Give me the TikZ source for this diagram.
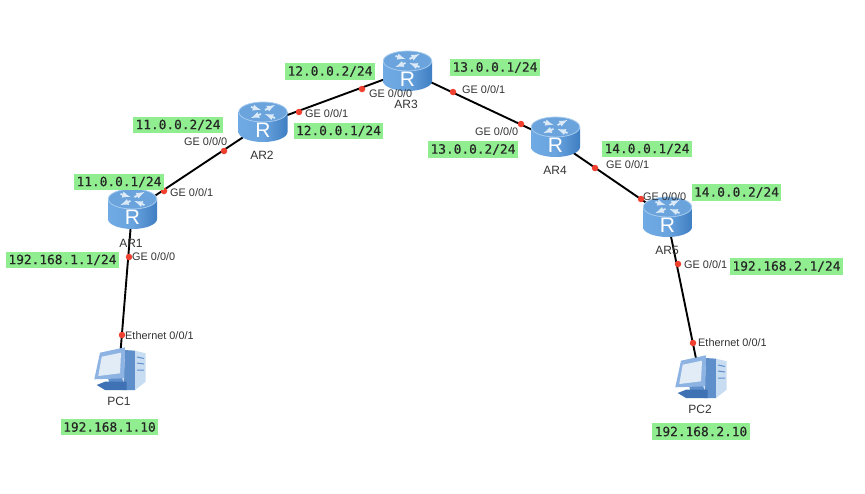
\documentclass[tikz,border=0pt]{standalone}
\usepackage{fontspec}
\setmainfont{Liberation Sans}
\newfontfamily\ipfont[FakeBold=0.35]{DejaVu Sans Mono}
\usepackage{tikz}
\usetikzlibrary{backgrounds}
\definecolor{ipgreen}{HTML}{90EE90}
\definecolor{portred}{HTML}{F04030}
\definecolor{labelgrey}{HTML}{333333}
\definecolor{routertop}{HTML}{6BA3DC}
\definecolor{routerrim}{HTML}{A6CBEF}
\definecolor{routerarrow}{HTML}{DCEAF8}
\definecolor{routerleft}{HTML}{6FAAE4}
\definecolor{routermid}{HTML}{6AA4DF}
\definecolor{routerright}{HTML}{3E7EC2}
\definecolor{pcdark}{HTML}{3F72B5}
\definecolor{pcmid}{HTML}{5F8FCB}
\definecolor{pcframe}{HTML}{8DB3E2}
\definecolor{pclight}{HTML}{C9DDF2}
\definecolor{pcscreen}{HTML}{E2ECF7}
\tikzset{
  link/.style={line width=1.9pt,black},
  port/.style={circle,fill=portred,inner sep=0pt,minimum size=6.5pt},
  ip/.style={fill=ipgreen,inner xsep=2.5pt,inner ysep=0pt,minimum height=16.5pt,font=\ipfont\fontsize{12.8}{14}\selectfont,text=black!85},
  portname/.style={anchor=west,inner sep=0pt,font=\fontsize{10.9}{12}\selectfont,text=labelgrey},
  devname/.style={inner sep=0pt,font=\fontsize{12}{14}\selectfont,text=labelgrey},
  dev/.style={inner sep=0pt,minimum size=4pt},
  flow/.style={routerarrow,line width=1.8pt,-latex},
  router/.pic={
    \path[left color=routerleft,right color=routerright,middle color=routermid]
      (-24.5,-10) -- (-24.5,10) .. controls (-24.5,15.5) and (-13.5,20) .. (0,20)
      .. controls (13.5,20) and (24.5,15.5) .. (24.5,10) -- (24.5,-10) -- cycle;
    \fill[routertop,draw=routerrim,line width=0.8pt] (0,-10) ellipse [x radius=24.2,y radius=10];
    \draw[flow] (-2,-8) -- (-12,-4);
    \draw[flow] (2,-12) -- (12,-17);
    \draw[flow] (-12,-15) -- (-2,-12);
    \draw[flow] (12,-4) -- (2,-8);
    \node[white,inner sep=0pt,font=\fontsize{21}{21}\selectfont] (-R) at (0,8.5) {R};
  },
  pc/.pic={
    \fill[pcmid] (6,-20) -- (16,-19.3) -- (16,20) -- (4.3,20) -- cycle;
    \fill[pclight] (16,-19.3) -- (26.7,-16.7) -- (26.7,11.7) -- (16,20) -- cycle;
    \draw[pcmid,line width=1pt] (18,-13) -- (25,-11.5) (18,-7) -- (25,-6) (18,0) -- (25,0);
    \fill[pcmid] (-11,8) -- (3,7) -- (5,15) -- (-9,15) -- cycle;
    \fill[pcdark] (-22.3,15) -- (-14,11.7) -- (7.7,11.7) -- (7.7,20) -- (-14,20) -- cycle;
    \fill[pcframe] (-19,-17.3) -- (6,-22.7) -- (5.3,8.3) -- (-24.7,9.3) -- cycle;
    \fill[pcscreen] (-17.3,-13.3) -- (2,-17.3) -- (1,3.3) -- (-20.7,6) -- cycle;
  },
}
\begin{document}
\begin{tikzpicture}[x=1pt,y=-1pt]
\node[dev] (AR1) at (132,211) {};
\node[dev] (AR2) at (263,124) {};
\node[dev] (AR3) at (407,71) {};
\node[dev] (AR4) at (556,141) {};
\node[dev] (AR5) at (667,217) {};
\node[dev] (PC1) at (119,370) {};
\node[dev] (PC2) at (700,378) {};

% links stay under the icons
\begin{scope}[on background layer]
\path[use as bounding box,fill=white] (0,0) rectangle (865,493);
\draw[link] (PC1.center) -- (AR1.center);
\draw[link] (AR1.center) -- (AR2.center);
\draw[link] (AR2.center) -- (AR3.center);
\draw[link] (AR3.center) -- (AR4.center);
\draw[link] (AR4.center) -- (AR5.center);
\draw[link] (AR5.center) -- (PC2.center);
\end{scope}

\pic (iconAR1) at (132.5,209) {router};
\pic (iconAR2) at (263,122) {router};
\pic (iconAR3) at (407.5,71) {router};
\pic (iconAR4) at (555.5,137) {router};
\pic (iconAR5) at (667.5,217) {router};
\pic (iconPC1) at (119,370) {pc};
\pic (iconPC2) at (700,378) {pc};

\node[devname] (nameAR1) at (131,243) {AR1};
\node[devname] (nameAR2) at (262,155) {AR2};
\node[devname] (nameAR3) at (406,104.5) {AR3};
\node[devname] (nameAR4) at (555,170) {AR4};
\node[devname] (nameAR5) at (667,250) {AR5};
\node[devname] (namePC1) at (119,401) {PC1};
\node[devname] (namePC2) at (700,409) {PC2};

\node[port] (p1) at (129,257) {};
\node[port] (p2) at (164,191) {};
\node[port] (p3) at (224,151) {};
\node[port] (p4) at (299,112) {};
\node[port] (p5) at (362,89) {};
\node[port] (p6) at (453,92) {};
\node[port] (p7) at (521,124) {};
\node[port] (p8) at (595,168) {};
\node[port] (p9) at (641,199) {};
\node[port] (p10) at (678,264) {};
\node[port] (p11) at (122,335) {};
\node[port] (p12) at (693,343) {};

\node[portname] (g1) at (132,257) {GE 0/0/0};
\node[portname] (g2) at (170,193) {GE 0/0/1};
\node[portname] (g3) at (184,142) {GE 0/0/0};
\node[portname] (g4) at (305,114) {GE 0/0/1};
\node[portname] (g5) at (369,94) {GE 0/0/0};
\node[portname] (g6) at (462,90) {GE 0/0/1};
\node[portname] (g7) at (475,132) {GE 0/0/0};
\node[portname] (g8) at (606,165) {GE 0/0/1};
\node[portname] (g9) at (643,197) {GE 0/0/0};
\node[portname] (g10) at (684,265) {GE 0/0/1};
\node[portname] (g11) at (125,336) {Ethernet 0/0/1};
\node[portname] (g12) at (698,343) {Ethernet 0/0/1};

\node[ip] (ip1) at (62.5,260) {192.168.1.1/24};
\node[ip] (ip2) at (119,182) {11.0.0.1/24};
\node[ip] (ip3) at (178,125) {11.0.0.2/24};
\node[ip] (ip4) at (330,71.5) {12.0.0.2/24};
\node[ip] (ip5) at (338.5,131) {12.0.0.1/24};
\node[ip] (ip6) at (495,67.5) {13.0.0.1/24};
\node[ip] (ip7) at (473,149.5) {13.0.0.2/24};
\node[ip] (ip8) at (647,149) {14.0.0.1/24};
\node[ip] (ip9) at (736.5,192.5) {14.0.0.2/24};
\node[ip] (ip10) at (786.5,266.5) {192.168.2.1/24};
\node[ip] (ip11) at (109.5,427) {192.168.1.10};
\node[ip] (ip12) at (701,431.5) {192.168.2.10};
\end{tikzpicture}
\end{document}
